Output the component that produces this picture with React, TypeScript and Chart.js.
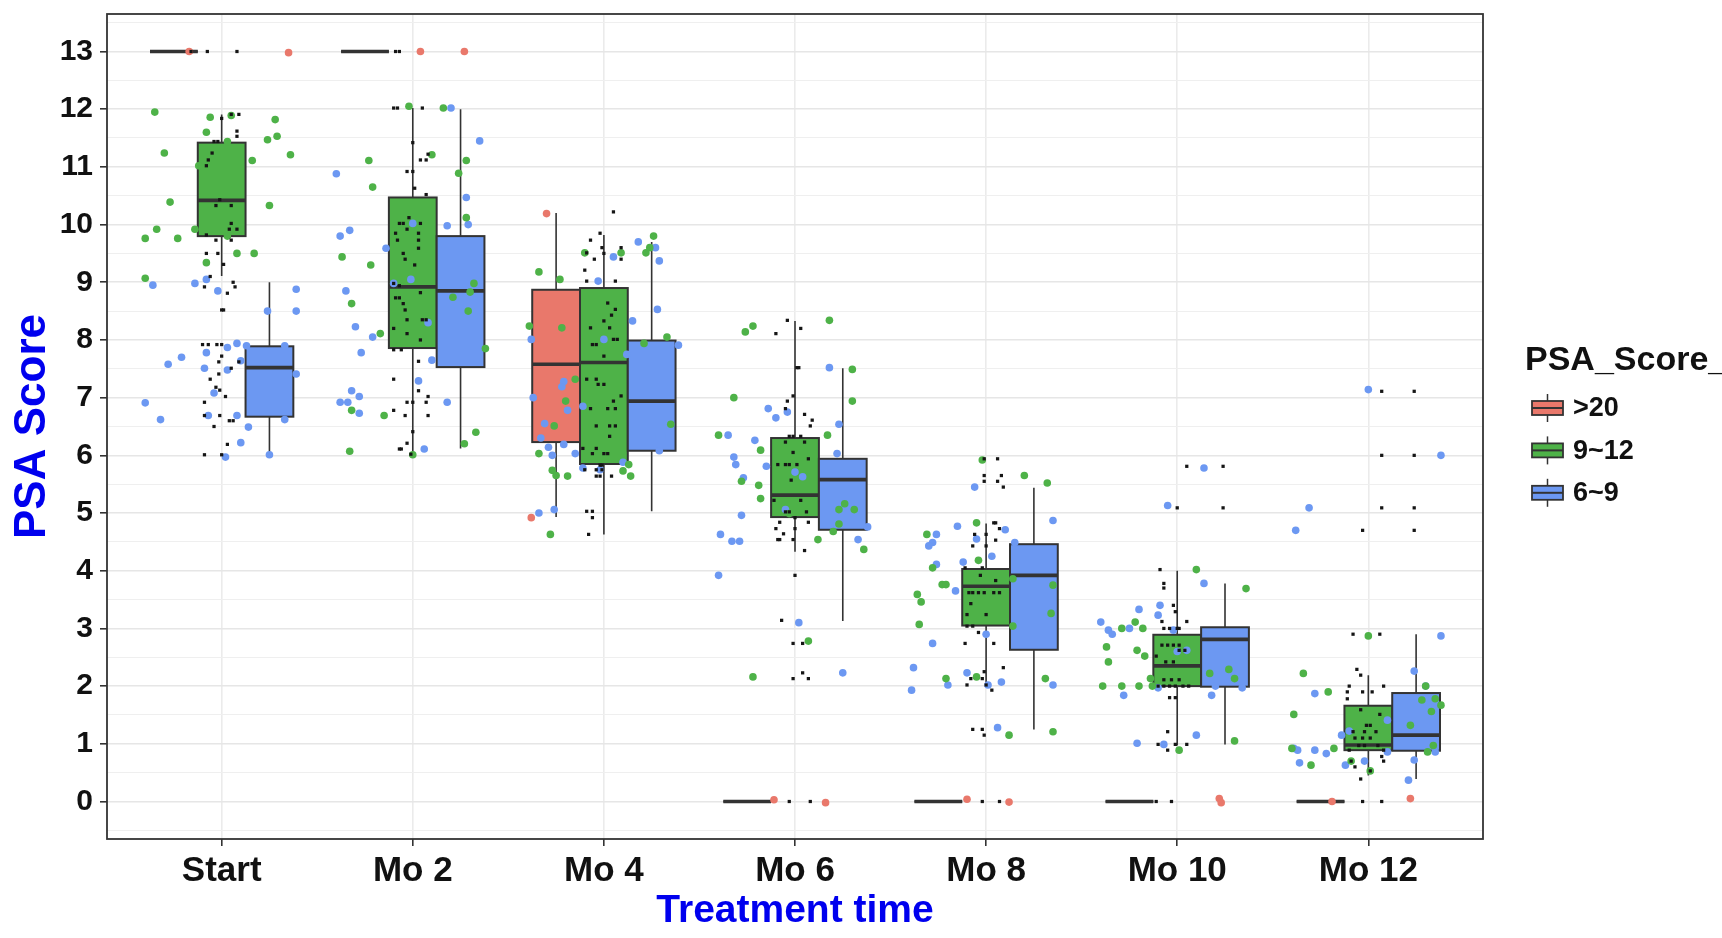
import { useEffect, useRef } from 'react';
import { Chart, registerables } from 'chart.js';

Chart.register(...registerables);

// Time points on the x axis (positions 1..7)
const categories = ['Start', 'Mo 2', 'Mo 4', 'Mo 6', 'Mo 8', 'Mo 10', 'Mo 12'];
const groupNames = ['>20', '9~12', '6~9'];
const groupColors = ['#E9786B', '#4EB248', '#6C98F2'];
const yTickValues = [0, 1, 2, 3, 4, 5, 6, 7, 8, 9, 10, 11, 12, 13];

// Box statistics per time point: [lower whisker, Q1, median, Q3, upper whisker]
const boxHigh = [
  [13, 13, 13, 13, 13],
  [13, 13, 13, 13, 13],
  [4.93, 6.23, 7.58, 8.87, 10.2],
  [0, 0, 0, 0, 0],
  [0, 0, 0, 0, 0],
  [0, 0, 0, 0, 0],
  [0, 0, 0, 0, 0],
];
const boxMid = [
  [9.11, 9.8, 10.42, 11.42, 11.91],
  [6.02, 7.86, 8.92, 10.47, 12.02],
  [4.63, 5.85, 7.61, 8.9, 9.82],
  [4.33, 4.93, 5.31, 6.3, 8.33],
  [2.02, 3.05, 3.73, 4.03, 4.82],
  [0.97, 2.0, 2.35, 2.89, 4.0],
  [0.45, 0.89, 0.98, 1.66, 2.19],
];
const boxLow = [
  [6.0, 6.67, 7.52, 7.89, 9.0],
  [6.12, 7.53, 8.85, 9.8, 12.0],
  [5.03, 6.08, 6.94, 7.99, 9.7],
  [3.13, 4.71, 5.58, 5.94, 7.51],
  [1.25, 2.63, 3.92, 4.46, 5.44],
  [0.99, 1.99, 2.81, 3.02, 3.78],
  [0.39, 0.88, 1.15, 1.88, 2.9],
];

// Jittered observations: [x position, PSA score]
const jitterHigh = [
  [0.83, 13.0], [1.35, 12.98], [2.04, 13.0], [2.27, 13.0], [2.7, 10.19], [2.62, 4.92],
  [3.89, 0.03], [4.16, -0.02], [4.9, 0.04], [5.12, -0.01], [6.22, 0.05], [6.23, -0.02],
  [6.81, 0.0], [7.22, 0.05],
];

const jitterMid = [
  // Start
  [0.65, 11.95], [0.7, 11.24], [0.73, 10.39], [0.66, 9.92], [0.6, 9.76], [0.77, 9.76], [0.6, 9.07],
  [0.94, 11.86], [1.05, 11.89], [0.92, 11.6], [1.03, 11.44], [0.88, 11.02], [0.86, 9.92], [1.03, 9.8],
  [1.08, 9.5], [1.17, 9.5], [0.92, 9.34], [1.16, 11.11], [1.24, 11.47], [1.28, 11.82], [1.29, 11.53],
  [1.36, 11.21], [1.25, 10.33],
  // Mo 2
  [1.98, 12.05], [2.16, 12.02], [1.77, 11.11], [1.79, 10.65], [1.63, 9.44], [1.78, 9.3], [1.68, 8.63],
  [1.83, 8.11], [1.68, 6.78], [1.85, 6.69], [1.67, 6.07], [2.1, 11.21], [2.28, 11.11], [2.24, 10.89],
  [2.28, 10.12], [2.38, 7.85], [2.21, 8.74], [2.3, 8.83], [2.29, 8.5], [2.32, 8.98], [2.27, 6.2],
  [2.33, 6.4], [2.0, 6.01],
  // Mo 4
  [2.66, 9.18], [2.77, 9.05], [2.61, 8.24], [2.78, 8.21], [2.85, 7.32], [2.8, 6.94], [2.74, 6.51],
  [2.66, 6.03], [2.73, 5.74], [2.75, 5.65], [2.81, 5.64], [2.72, 4.63], [2.9, 9.51], [3.09, 9.51],
  [3.22, 9.51], [3.24, 9.6], [3.26, 9.8], [3.21, 7.94], [3.33, 8.05], [3.35, 6.54], [3.13, 5.84],
  [3.1, 5.73], [3.14, 5.64],
  // Mo 6
  [3.74, 8.14], [3.78, 8.24], [4.18, 8.34], [3.68, 7.0], [3.6, 6.35], [3.82, 6.09], [3.72, 5.55],
  [3.81, 5.48], [3.82, 5.25], [4.3, 7.49], [4.3, 6.94], [4.17, 6.35], [4.26, 5.16], [4.23, 5.06],
  [4.31, 5.06], [4.23, 4.81], [4.2, 4.68], [4.12, 4.54], [4.36, 4.37], [3.97, 4.99], [3.78, 2.16],
  [4.07, 2.78],
  // Mo 8
  [4.98, 5.92], [5.2, 5.65], [5.32, 5.52], [4.69, 4.63], [4.72, 4.05], [4.77, 3.76], [4.79, 3.76],
  [4.64, 3.59], [4.66, 3.46], [4.65, 3.07], [4.95, 4.83], [4.96, 4.18], [5.14, 3.04], [5.14, 3.86],
  [5.35, 3.75], [5.34, 3.26], [4.79, 2.13], [4.95, 2.16], [5.12, 1.15], [5.31, 2.13], [5.35, 1.21],
  // Mo 10
  [6.1, 4.02], [6.36, 3.69], [5.78, 3.11], [5.71, 3.0], [5.82, 3.0], [5.63, 2.68], [5.64, 2.42],
  [5.79, 2.62], [5.83, 2.52], [5.86, 2.13], [5.61, 2.0], [5.71, 2.0], [5.8, 2.0], [5.87, 2.0],
  [6.01, 0.89], [6.17, 2.22], [6.27, 2.29], [6.3, 2.13], [6.3, 1.05],
  // Mo 12
  [7.0, 2.87], [6.66, 2.22], [6.79, 1.9], [6.61, 1.51], [6.6, 0.92], [6.7, 0.63], [6.82, 0.92],
  [6.91, 0.7], [7.01, 0.53], [7.22, 1.32], [7.28, 1.76], [7.35, 1.78], [7.38, 1.67], [7.33, 1.56],
  [7.3, 2.0], [7.34, 0.97], [7.31, 0.86],
];

const jitterLow = [
  // Start
  [0.64, 8.95], [0.86, 8.98], [0.92, 9.05], [0.98, 8.85], [1.39, 8.88], [1.24, 8.5], [1.39, 8.5],
  [0.79, 7.7], [0.72, 7.58], [0.6, 6.91], [0.68, 6.62], [0.92, 7.78], [0.91, 7.51], [1.03, 7.87],
  [1.08, 7.94], [1.13, 7.9], [1.33, 7.9], [1.39, 7.41], [1.03, 7.48], [1.1, 7.64], [0.96, 7.08],
  [0.93, 6.69], [1.08, 6.69], [1.14, 6.49], [1.33, 6.62], [1.1, 6.22], [1.02, 5.97], [1.25, 6.01],
  // Mo 2
  [1.6, 10.88], [1.62, 9.8], [1.67, 9.9], [1.65, 8.85], [1.7, 8.23], [1.79, 8.05], [1.73, 7.78],
  [1.68, 7.12], [1.72, 7.02], [1.62, 6.92], [1.66, 6.92], [1.72, 6.73], [1.86, 9.59], [2.0, 10.02],
  [1.99, 9.05], [1.9, 8.98], [2.08, 8.3], [2.1, 7.65], [2.03, 7.29], [2.2, 12.02], [2.35, 11.45],
  [2.28, 10.47], [2.18, 9.98], [2.29, 10.0], [2.18, 6.92], [2.06, 6.11],
  // Mo 4
  [2.62, 8.01], [2.63, 7.0], [2.79, 7.28], [2.78, 7.19], [2.81, 6.78], [2.69, 6.55], [2.67, 6.3],
  [2.71, 6.14], [2.73, 6.0], [2.79, 6.19], [2.66, 5.0], [2.74, 5.06], [2.85, 6.03], [2.89, 6.85],
  [3.0, 8.01], [2.97, 9.02], [3.05, 9.44], [3.18, 9.7], [3.27, 9.6], [3.29, 9.37], [3.28, 8.53],
  [3.15, 8.33], [3.12, 7.75], [3.39, 7.91], [2.89, 5.78], [2.98, 5.75], [3.1, 5.88], [3.29, 6.08],
  // Mo 6
  [3.65, 6.35], [3.86, 6.81], [3.9, 6.65], [3.96, 6.75], [3.79, 6.26], [3.68, 5.97], [3.69, 5.84],
  [3.73, 5.61], [3.85, 5.81], [3.72, 4.96], [3.61, 4.63], [3.67, 4.51], [3.71, 4.51], [3.6, 3.92],
  [4.18, 7.52], [4.23, 6.54], [4.22, 6.03], [4.33, 4.54], [4.38, 4.76], [4.0, 5.71], [4.04, 5.63],
  [3.95, 5.06], [4.02, 3.1], [4.25, 2.23],
  // Mo 8
  [4.94, 5.45], [4.85, 4.77], [4.74, 4.63], [4.72, 4.49], [4.7, 4.43], [5.1, 4.71], [5.03, 4.25],
  [4.74, 4.11], [4.88, 4.15], [4.95, 4.55], [4.84, 3.65], [5.15, 4.49], [5.35, 4.87], [5.0, 2.9],
  [4.72, 2.74], [4.62, 2.32], [4.61, 1.93], [4.8, 2.02], [4.9, 2.23], [5.01, 2.02], [5.08, 2.07],
  [5.06, 1.28], [5.35, 2.02],
  // Mo 10
  [6.14, 5.78], [5.95, 5.13], [6.14, 3.78], [5.91, 3.4], [5.8, 3.33], [5.9, 3.23], [5.6, 3.11],
  [5.64, 2.97], [5.66, 2.9], [5.75, 3.0], [5.98, 2.97], [6.0, 2.6], [6.05, 2.62], [5.72, 1.84],
  [5.9, 1.97], [6.18, 1.84], [6.2, 2.0], [6.34, 1.97], [6.1, 1.15], [5.79, 1.01], [5.93, 0.99],
  // Mo 12
  [7.0, 7.14], [7.38, 6.0], [6.69, 5.09], [6.62, 4.7], [7.38, 2.87], [7.24, 2.26], [6.72, 1.87],
  [7.3, 2.0], [6.86, 1.15], [6.9, 1.22], [6.61, 0.92], [6.63, 0.89], [6.72, 0.89], [6.78, 0.83],
  [6.64, 0.67], [6.88, 0.63], [6.98, 0.7], [7.1, 1.41], [7.24, 0.72], [7.21, 0.37], [7.35, 0.86],
  [7.1, 0.86],
];

// Individual measurements shown as small dark squares
const blackDots = [
  // Start
  [0.84, 13], [0.925, 13], [1.08, 13], [1.0, 11.84], [1.05, 11.91], [1.09, 11.91], [1.08, 11.62],
  [1.08, 11.53], [0.96, 11.44], [0.98, 11.44], [0.95, 11.24], [0.92, 11.02], [0.93, 11.12],
  [0.99, 10.43], [0.97, 10.33], [1.05, 10.33], [1.05, 10.02], [1.04, 9.92], [1.08, 9.92], [0.92, 9.82],
  [0.97, 9.73], [1.05, 9.73], [0.92, 9.5], [0.98, 9.5], [1.01, 9.31], [0.94, 9.1], [0.91, 8.92],
  [1.06, 9.0], [1.07, 8.92], [1.03, 8.81], [1.0, 8.52], [1.01, 8.52], [0.9, 7.92], [0.93, 7.92],
  [0.975, 7.92], [1.0, 7.92], [0.985, 7.62], [1.0, 7.72], [1.05, 7.51], [0.985, 7.41], [0.94, 7.32],
  [0.97, 7.18], [0.99, 7.13], [1.02, 7.02], [0.91, 6.92], [0.91, 6.69], [0.99, 6.69], [1.04, 6.6],
  [1.06, 6.6], [0.96, 6.5], [1.03, 6.19], [0.91, 6.01], [1.0, 6.01], [1.09, 7.62],
  // Mo 2
  [1.91, 13], [1.93, 13], [1.9, 12.02], [1.92, 12.02], [2.05, 12.02], [2.0, 11.42], [2.08, 11.22],
  [2.04, 11.12], [2.07, 11.12], [1.97, 10.92], [2.0, 10.92], [2.01, 10.63], [2.07, 10.52],
  [1.93, 10.02], [1.95, 10.02], [2.04, 10.02], [1.98, 10.12], [1.97, 9.92], [1.91, 9.85], [1.92, 9.73],
  [2.03, 9.85], [2.03, 9.73], [2.03, 9.59], [1.95, 9.5], [1.96, 9.4], [2.01, 9.3], [1.9, 8.98],
  [1.93, 8.94], [2.04, 8.82], [1.91, 8.73], [1.93, 8.73], [1.95, 8.63], [1.96, 8.52], [1.97, 8.35],
  [2.05, 8.35], [2.07, 8.35], [1.9, 8.2], [1.97, 8.11], [2.04, 8.0], [1.9, 7.83], [1.94, 7.83],
  [2.03, 7.63], [1.9, 7.32], [2.03, 7.12], [1.97, 6.92], [2.0, 6.92], [2.07, 6.92], [2.08, 7.02],
  [1.9, 6.78], [1.96, 6.69], [2.08, 6.69], [2.0, 6.41], [1.97, 6.21], [1.93, 6.11], [1.94, 6.11],
  [1.99, 6.02],
  // Mo 4
  [3.05, 10.22], [2.98, 9.85], [2.93, 9.73], [2.95, 9.4], [3.0, 9.5], [2.99, 9.6], [2.91, 9.51],
  [3.09, 9.6], [3.09, 9.4], [2.9, 9.21], [2.91, 9.02], [3.06, 9.02], [3.02, 8.64], [3.06, 8.53],
  [3.04, 8.43], [3.0, 8.33], [2.93, 8.21], [3.03, 8.21], [2.94, 7.92], [2.96, 7.92], [3.05, 8.01],
  [3.07, 8.01], [3.0, 7.72], [2.91, 7.32], [2.96, 7.32], [3.0, 7.23], [2.97, 7.23], [3.05, 6.94],
  [3.09, 7.03], [2.93, 6.81], [3.02, 6.81], [3.06, 6.81], [2.96, 6.51], [3.03, 6.51], [3.06, 6.51],
  [3.03, 6.33], [2.89, 6.12], [2.96, 6.12], [2.94, 6.03], [3.0, 6.03], [3.02, 6.03], [2.98, 5.83],
  [2.99, 5.83], [2.9, 5.75], [2.96, 5.75], [2.99, 5.75], [2.96, 5.64], [3.04, 5.64], [2.98, 5.64],
  [2.91, 5.03], [2.94, 5.03], [2.94, 4.92], [2.92, 4.63],
  // Mo 6
  [3.96, 8.34], [4.03, 8.2], [3.9, 8.11], [4.01, 7.52], [4.02, 7.52], [3.99, 7.03], [3.96, 6.94],
  [3.95, 6.81], [4.05, 6.71], [4.09, 6.61], [4.08, 6.51], [3.97, 6.33], [3.99, 6.33], [4.03, 6.33],
  [3.95, 6.23], [4.05, 6.23], [4.07, 5.94], [3.91, 5.84], [3.95, 5.84], [3.97, 5.84], [4.01, 5.84],
  [3.99, 6.05], [3.98, 5.57], [3.89, 5.22], [4.03, 5.22], [3.95, 5.02], [3.97, 5.02], [4.06, 5.02],
  [3.92, 4.84], [4.0, 4.92], [4.07, 4.84], [3.9, 4.73], [4.0, 4.73], [3.94, 4.64], [3.92, 4.54],
  [3.91, 4.54], [4.05, 4.35], [3.99, 4.54], [4.0, 3.92], [3.93, 3.14], [3.99, 2.74], [4.04, 2.74],
  [3.99, 2.13], [4.04, 2.23], [4.07, 2.13], [3.97, 0], [4.08, 0],
  // Mo 8
  [4.99, 5.94], [5.06, 5.94], [4.99, 5.65], [5.08, 5.65], [4.99, 5.55], [5.06, 5.55], [5.09, 5.45],
  [5.05, 4.83], [5.04, 4.83], [5.07, 4.73], [4.94, 4.63], [5.0, 4.63], [5.05, 4.53], [4.93, 4.43],
  [5.0, 4.43], [4.97, 3.92], [4.89, 4.05], [4.98, 4.05], [5.05, 3.83], [4.91, 3.62], [4.93, 3.62],
  [4.96, 3.62], [4.99, 3.62], [5.04, 3.62], [5.07, 3.62], [4.92, 3.43], [4.9, 3.24], [5.0, 3.24],
  [4.9, 3.04], [4.93, 3.04], [4.96, 2.93], [4.89, 2.74], [5.04, 2.74], [5.09, 2.32], [4.99, 2.25],
  [4.92, 2.13], [4.98, 2.13], [4.9, 2.02], [5.0, 2.02], [5.03, 1.93], [4.93, 1.25], [4.98, 1.25],
  [4.99, 1.15], [4.98, 0], [5.07, 0],
  // Mo 10
  [6.05, 5.81], [6.24, 5.81], [6.0, 5.09], [6.24, 5.09], [5.91, 4.02], [5.93, 3.78], [5.93, 3.7],
  [5.98, 3.4], [5.99, 3.29], [5.92, 3.12], [6.05, 3.12], [5.93, 3.0], [6.0, 3.0], [5.96, 3.0],
  [6.01, 3.0], [5.92, 2.71], [5.95, 2.71], [6.01, 2.71], [5.98, 2.71], [6.01, 2.62], [6.04, 2.62],
  [5.89, 2.52], [5.94, 2.42], [5.98, 2.42], [5.93, 2.11], [5.97, 2.11], [6.01, 2.11], [5.9, 2.0],
  [5.93, 2.0], [5.96, 2.0], [5.99, 2.0], [6.03, 2.0], [6.06, 2.0], [5.96, 1.8], [5.99, 1.8],
  [5.95, 1.21], [5.9, 0.99], [5.99, 0.99], [6.05, 0.99], [5.95, 0.89], [5.89, 0], [5.97, 0],
  // Mo 12
  [7.07, 7.11], [7.24, 7.11], [7.07, 6.0], [7.24, 6.0], [7.07, 5.09], [7.24, 5.09], [6.97, 4.7],
  [7.24, 4.7], [6.92, 2.9], [7.06, 2.9], [6.94, 2.29], [6.96, 2.19], [6.9, 2.0], [7.08, 2.0],
  [6.89, 1.9], [6.97, 1.9], [7.02, 1.9], [6.89, 1.78], [6.96, 1.59], [7.06, 1.51], [6.99, 1.32],
  [7.01, 1.32], [6.92, 1.21], [6.98, 1.21], [7.04, 1.21], [6.93, 1.1], [6.97, 1.1], [7.01, 1.1],
  [6.95, 0.97], [6.98, 0.97], [7.05, 0.97], [6.9, 0.89], [7.08, 0.89], [7.07, 0.78], [7.08, 0.7],
  [6.91, 0.7], [6.93, 0.6], [7.01, 0.53], [6.96, 0.39], [6.97, 0], [7.07, 0],
];

const DODGE = 0.25;
const BOX_HALF = 0.125;
const INK = '#333333';
const FONT = '"Liberation Sans", Arial, Helvetica, sans-serif';

const toPoints = (rows: number[][]) => rows.map(([x, y]) => ({ x, y }));

const boxPlotPlugin = {
  id: 'boxPlot',
  beforeDatasetsDraw(chart: any) {
    const { ctx, scales } = chart;
    const xs = scales.x;
    const ys = scales.y;
    [boxHigh, boxMid, boxLow].forEach((stats, g) => {
      const offset = (g - 1) * DODGE;
      stats.forEach((s, i) => {
        if (!s) return;
        const c = i + 1 + offset;
        const xl = xs.getPixelForValue(c - BOX_HALF);
        const xr = xs.getPixelForValue(c + BOX_HALF);
        const xc = xs.getPixelForValue(c);
        const [lo, q1, med, q3, hi] = s.map((v) => ys.getPixelForValue(v));
        ctx.save();
        ctx.strokeStyle = INK;
        ctx.lineWidth = 1.6;
        ctx.beginPath();
        ctx.moveTo(xc, q3);
        ctx.lineTo(xc, hi);
        ctx.moveTo(xc, q1);
        ctx.lineTo(xc, lo);
        ctx.stroke();
        ctx.fillStyle = groupColors[g];
        ctx.fillRect(xl, q3, xr - xl, q1 - q3);
        ctx.lineWidth = 2;
        ctx.strokeRect(xl, q3, xr - xl, q1 - q3);
        ctx.lineWidth = 3.6;
        ctx.beginPath();
        ctx.moveTo(xl, med);
        ctx.lineTo(xr, med);
        ctx.stroke();
        ctx.restore();
      });
    });
  },
};

const decorPlugin = {
  id: 'decor',
  afterDraw(chart: any) {
    const { ctx, chartArea } = chart;
    const { left, right, top, bottom } = chartArea;
    ctx.save();
    // panel border
    ctx.strokeStyle = INK;
    ctx.lineWidth = 1.8;
    ctx.strokeRect(left, top, right - left, bottom - top);

    // axis titles
    ctx.fillStyle = '#0000EE';
    ctx.textAlign = 'center';
    ctx.textBaseline = 'middle';
    ctx.font = `bold 39px ${FONT}`;
    ctx.fillText('Treatment time', (left + right) / 2, 911);
    ctx.save();
    ctx.translate(33, (top + bottom) / 2);
    ctx.rotate(-Math.PI / 2);
    ctx.font = `bold 44px ${FONT}`;
    ctx.fillText('PSA Score', 0, 0);
    ctx.restore();

    // legend
    ctx.fillStyle = '#111111';
    ctx.textAlign = 'left';
    ctx.textBaseline = 'alphabetic';
    ctx.font = `bold 34px ${FONT}`;
    ctx.fillText('PSA_Score_', 1525, 370);
    const keyLeft = 1532;
    const keyW = 31;
    const keyH = 14;
    groupNames.forEach((name, g) => {
      const cy = 408 + g * 42.4;
      const cx = keyLeft + keyW / 2;
      ctx.strokeStyle = INK;
      ctx.lineWidth = 1.5;
      ctx.beginPath();
      ctx.moveTo(cx, cy - 14);
      ctx.lineTo(cx, cy + 14);
      ctx.stroke();
      ctx.fillStyle = groupColors[g];
      ctx.fillRect(keyLeft, cy - keyH / 2, keyW, keyH);
      ctx.lineWidth = 1.8;
      ctx.strokeRect(keyLeft, cy - keyH / 2, keyW, keyH);
      ctx.lineWidth = 2;
      ctx.beginPath();
      ctx.moveTo(keyLeft, cy);
      ctx.lineTo(keyLeft + keyW, cy);
      ctx.stroke();
      ctx.fillStyle = '#111111';
      ctx.font = `bold 27px ${FONT}`;
      ctx.textBaseline = 'middle';
      ctx.fillText(name, 1573, cy + 1);
    });
    ctx.restore();
  },
};

export default function App() {
  const canvasRef = useRef<HTMLCanvasElement | null>(null);

  useEffect(() => {
    const canvas = canvasRef.current;
    if (!canvas) return;

    const yGrid: number[] = [];
    for (let v = -0.5; v <= 13.5; v += 0.5) yGrid.push(v);
    const isMajor = (v: number) => yTickValues.includes(v);

    const chart = new Chart(canvas, {
      type: 'scatter',
      data: {
        datasets: [
          {
            label: 'points',
            data: toPoints(blackDots),
            pointStyle: 'rect',
            pointRadius: 2.3,
            pointBorderWidth: 0,
            backgroundColor: '#151515',
            borderColor: '#151515',
            order: 0,
          },
          ...[jitterHigh, jitterMid, jitterLow].map((rows, g) => ({
            label: groupNames[g],
            data: toPoints(rows),
            pointStyle: 'circle',
            pointRadius: 3.8,
            pointBorderWidth: 0,
            backgroundColor: groupColors[g],
            borderColor: groupColors[g],
            order: 1,
          })),
        ],
      },
      options: {
        animation: false,
        responsive: false,
        events: [],
        layout: { padding: { left: 0, top: 14, right: 239, bottom: 0 } },
        plugins: {
          legend: { display: false },
          tooltip: { enabled: false },
        },
        scales: {
          x: {
            type: 'linear',
            position: 'bottom',
            min: 0.4,
            max: 7.6,
            afterBuildTicks: (scale: any) => {
              scale.ticks = categories.map((_, i) => ({ value: i + 1 }));
            },
            afterFit: (scale: any) => {
              scale.height = 99;
              scale.paddingLeft = 0;
              scale.paddingRight = 0;
            },
            border: { display: false },
            grid: {
              color: '#ebebeb',
              lineWidth: 1.6,
              tickColor: INK,
              tickLength: 7,
              tickWidth: 1.6,
            },
            ticks: {
              autoSkip: false,
              maxRotation: 0,
              padding: 4,
              color: '#111111',
              font: { family: FONT, size: 35, weight: 'bold' },
              callback: (value: any) => categories[Number(value) - 1] ?? '',
            },
          },
          y: {
            type: 'linear',
            min: -0.65,
            max: 13.65,
            afterBuildTicks: (scale: any) => {
              scale.ticks = yGrid.map((v) => ({ value: v }));
            },
            afterFit: (scale: any) => {
              scale.width = 107;
              scale.paddingTop = 0;
              scale.paddingBottom = 0;
            },
            border: { display: false },
            grid: {
              color: (ctx: any) => (isMajor(ctx.tick?.value) ? '#e6e6e6' : '#efefef'),
              lineWidth: (ctx: any) => (isMajor(ctx.tick?.value) ? 1.6 : 1.1),
              tickColor: (ctx: any) => (isMajor(ctx.tick?.value) ? INK : 'rgba(0,0,0,0)'),
              tickLength: 7,
              tickWidth: 1.6,
            },
            ticks: {
              autoSkip: false,
              padding: 7,
              color: '#111111',
              font: { family: FONT, size: 30, weight: 'bold' },
              callback: (value: any) => (isMajor(Number(value)) ? String(value) : ''),
            },
          },
        },
      },
      plugins: [boxPlotPlugin, decorPlugin],
    });

    return () => chart.destroy();
  }, []);

  return (
    <div style={{ position: 'fixed', left: 0, top: 0, width: 1722, height: 938, background: '#ffffff' }}>
      <canvas ref={canvasRef} width={1722} height={938} style={{ display: 'block' }} />
    </div>
  );
}
